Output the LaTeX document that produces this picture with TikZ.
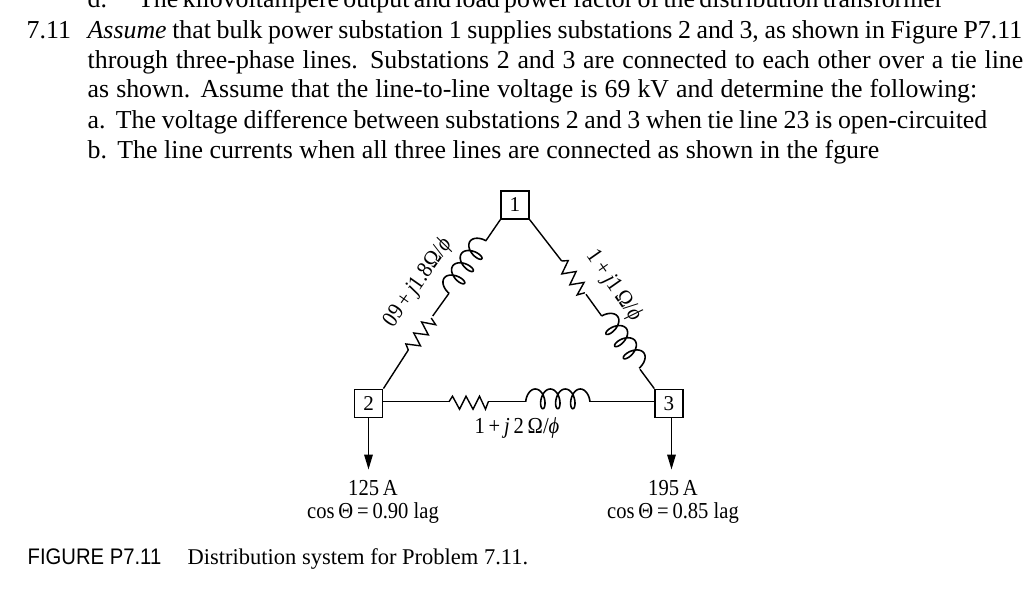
\documentclass[tikz,border=0pt]{standalone}
\usepackage{fontspec}
\setmainfont{Liberation Serif}
\setsansfont{Liberation Sans}
\newfontfamily\condserif[FakeStretch=0.9]{Liberation Serif}
\newfontfamily\condsans[FakeStretch=0.9]{Liberation Sans}
\usetikzlibrary{arrows.meta}
\tikzset{
  txtline/.style={anchor=base west,inner sep=0,font=\fontsize{7.35}{8}\selectfont},
  lbl/.style={inner sep=0,font=\condserif\fontsize{6.5}{7}\selectfont},
  subst/.style={draw,minimum size=0.28cm,inner sep=0,font=\fontsize{6}{7}\selectfont},
  load/.style={-{Triangle[length=4.2pt,width=2.4pt]}},
  coilpic/.pic={\draw [line width=0.45pt] plot[smooth,domain=73:1367,samples=150,variable=\t] ({2.12+2.387*rad(\t)-5.4*sin(\t)},{-2.85+9.85*cos(\t)});},
  respic/.pic={\draw (0,0) -- (3.5,-5.5) -- (10.5,7.5) -- (17,-5.5) -- (24,7.5) -- (30.5,-5.5) -- (36.5,7.5) -- (39.3,0);}
}
\newcommand{\phs}{\textit{ϕ}}
\newcommand{\fitline}[2]{\makebox[#1cm][s]{#2}}
\begin{document}
\begin{tikzpicture}[x=0.01cm,y=-0.01cm,line width=0.4pt]
      \useasboundingbox (0,0) rectangle (1024,597);
      \node [txtline] (td) at (87,7.5) {\fitline{8.53}{d.\hspace{1.2em}The kilovoltampere output and load power factor of the distribution transformer}};
      \node [txtline] (tnum) at (26,38) {7.11};
      \node [txtline] (t1) at (87,38) {\fitline{9.34}{\textit{Assume} that bulk power substation 1 supplies substations 2 and 3, as shown in Figure P7.11}};
      \node [txtline] (t2) at (87,68) {\fitline{9.35}{through three-phase lines. Substations 2 and 3 are connected to each other over a tie line}};
      \node [txtline] (t3) at (87,97.5) {\fitline{8.89}{as shown. Assume that the line-to-line voltage is 69 kV and determine the following:}};
      \node [txtline] (ta) at (87,128) {\fitline{8.99}{a.\hspace{0.4em}The voltage difference between substations 2 and 3 when tie line 23 is open-circuited}};
      \node [txtline] (tb) at (87,158) {\fitline{7.91}{b.\hspace{0.4em}The line currents when all three lines are connected as shown in the fgure}};
      \node [subst] (n1) at (515,205) {1};
      \node [subst] (n2) at (368.7,403.3) {2};
      \node [subst] (n3) at (669,403.3) {3};
      \coordinate (c12b) at (485.7,241);
      \coordinate (c12a) at (449,293.3);
      \coordinate (r12b) at (432.7,316);
      \coordinate (r12a) at (408.3,350);
      \coordinate (r13a) at (561.7,261);
      \coordinate (r13b) at (586,294.3);
      \coordinate (c13a) at (601.7,316);
      \coordinate (c13b) at (640,369.3);
      \coordinate (r23a) at (449,401.7);
      \coordinate (r23b) at (488.3,401.7);
      \coordinate (c23a) at (525.7,401.7);
      \coordinate (c23b) at (590,401.7);
      \coordinate (i2) at (368.5,469.5);
      \coordinate (i3) at (671.5,469.5);
      \draw (n1.south west) -- (c12b);
      \draw (c12a) -- (r12b);
      \draw (r12a) -- (n2.north east);
      \draw (n1.south east) -- (r13a);
      \draw (r13b) -- (c13a);
      \draw (c13b) -- (n3.north west);
      \draw (n2.east |- r23a) -- (r23a);
      \draw (r23b) -- (c23a);
      \draw (c23b) -- (n3.west |- c23b);
      \pic [rotate=54.9] at (c12a) {coilpic};
      \pic [rotate=54.3] at (r12a) {respic};
      \pic [rotate=-53.9] at (r13a) {respic};
      \pic [rotate=-54.3] at (c13a) {coilpic};
      \pic at (r23a) {respic};
      \pic at (c23a) {coilpic};
      \draw [load] (n2.south -| i2) -- (i2);
      \draw [load] (n3.south -| i3) -- (i3);
      \node [lbl,rotate=55] (l12) at (418,283) {09\,+\,\textit{j}1.8Ω/\phs};
      \node [lbl,rotate=-55] (l13) at (613.5,286) {1\,+\,\textit{j}1\,Ω/\phs};
      \node [lbl] (l23) at (517,428) {1\,+\,\textit{j}\,2\,Ω/\phs};
      \node [lbl] (a2) at (373,488) {125\,A};
      \node [lbl] (p2) at (373,513) {cos\,Θ\,=\,0.90 lag};
      \node [lbl] (a3) at (673,488) {195\,A};
      \node [lbl] (p3) at (673,513) {cos\,Θ\,=\,0.85 lag};
      \node [anchor=base west,inner sep=0,font=\condsans\fontsize{6.4}{7}\selectfont] (capa) at (27,564) {FIGURE P7.11};
      \node [anchor=base west,inner sep=0,font=\fontsize{6.4}{7}\selectfont] (capb) at (187,564) {Distribution system for Problem 7.11.};
    \end{tikzpicture}
\end{document}
